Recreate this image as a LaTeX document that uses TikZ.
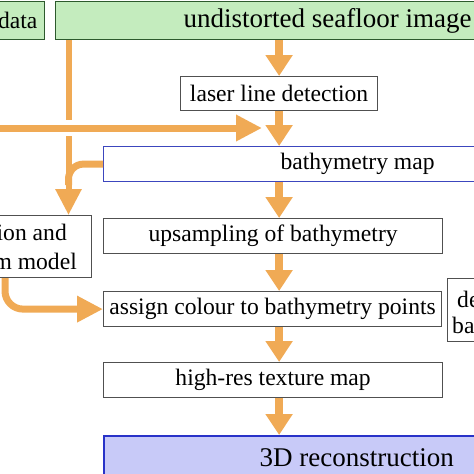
\documentclass[tikz,border=0pt]{standalone}
\usepackage{fontspec}
\setmainfont{Liberation Serif}
\usetikzlibrary{arrows.meta,positioning,calc}

\definecolor{flow}{RGB}{240,170,85}
\definecolor{srcfill}{RGB}{196,236,190}
\definecolor{srcline}{RGB}{45,90,45}
\definecolor{mapline}{RGB}{60,70,190}
\definecolor{recfill}{RGB}{200,202,248}
\definecolor{recline}{RGB}{40,50,200}
\definecolor{boxgray}{RGB}{80,80,80}

\begin{document}
\begin{tikzpicture}[
    x=1pt, y=-1pt,
    box/.style={rectangle, draw=boxgray, line width=1.2pt, inner sep=0pt, anchor=north west, font=\fontsize{23.6}{28}\selectfont},
    src/.style={box, draw=srcline, fill=srcfill, font=\fontsize{27}{32}\selectfont},
    res/.style={box, draw=mapline},
    rec/.style={box, draw=recline, fill=recfill, line width=1.6pt, font=\fontsize{27}{32}\selectfont},
    part/.style={inner sep=0pt, font=\fontsize{23.6}{28}\selectfont},
    flowarrow/.style={-{Triangle[width=26pt,length=21pt]}, line width=8pt, draw=flow},
    feed/.style={-{Triangle[width=25pt,length=26pt]}, line width=7pt, draw=flow}
]
    \useasboundingbox (0,0) rectangle (474,474);
    \clip (0,0) rectangle (474,474);

    % inputs
    \node[src, anchor=north east, inner xsep=7pt, minimum height=38pt, font=\fontsize{23.6}{28}\selectfont] (nav) at (45,1) {data};
    \node[src, minimum width=544pt, minimum height=38pt] (img) at (55,1) {undistorted seafloor image};

    % main chain
    \node[box, minimum width=197pt, minimum height=34pt] (laser) at (180,76) {laser line detection};
    \node[res, minimum width=508pt, minimum height=35pt] (bathy) at (103,146) {bathymetry map};
    \node[box, minimum width=339pt, minimum height=35pt] (up) at (103,218) {upsampling of bathymetry};
    \node[box, minimum width=338pt, minimum height=35pt] (assign) at (103,291) {assign colour to bathymetry points};
    \node[box, minimum width=339pt, minimum height=35pt] (hires) at (103,362) {high-res texture map};
    \node[rec, minimum width=506pt, minimum height=44pt] (recon) at (103,435) {3D reconstruction};

    % side boxes
    \node[box, anchor=north east, minimum width=150pt, minimum height=62pt] (calib) at (92,215) {};
    \node[part, anchor=east] (calibA) at (67,232) {ion and};
    \node[part, anchor=east] (calibB) at (77,261) {m model};
    \node[box, minimum width=80pt, minimum height=63pt] (dense) at (447,278) {};
    \node[part, anchor=west] (denseA) at (457,299) {de};
    \node[part, anchor=west] (denseB) at (452,325) {ba};

    \coordinate (jx) at (68.5,0);
    \coordinate (kx) at (5,0);
    \coordinate (from) at (-10,128);
    \coordinate (to) at (262,128);

    % side feeds
    \draw[feed, line width=6pt] (img.south -| jx) -- (calib.north -| jx);
    \draw[feed, -, rounded corners=15pt] (bathy.west) -| ($(calib.north -| jx)+(0,-30)$);
    \draw[feed, preaction={draw=white, line width=16pt, -, shorten >=20pt}] (from) -- (to);
    \draw[feed, rounded corners=18pt] (calib.south -| kx) |- (assign.west);

    % main flow
    \draw[flowarrow] (img.south -| laser.south) -- (laser.north);
    \draw[flowarrow] (laser.south) -- (bathy.north -| laser.south);
    \draw[flowarrow] (bathy.south -| laser.south) -- (up.north -| laser.south);
    \draw[flowarrow] (up.south -| laser.south) -- (assign.north -| laser.south);
    \draw[flowarrow] (assign.south -| laser.south) -- (hires.north -| laser.south);
    \draw[flowarrow] (hires.south -| laser.south) -- (recon.north -| laser.south);
\end{tikzpicture}
\end{document}
